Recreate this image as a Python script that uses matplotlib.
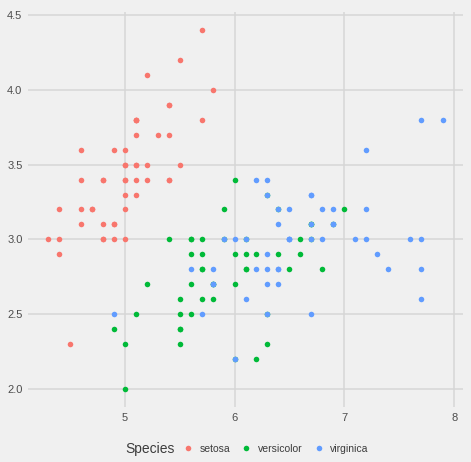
import numpy as np
import matplotlib
matplotlib.use("Agg")
import matplotlib.pyplot as plt
from matplotlib.lines import Line2D

# iris: sepal length / sepal width
setosa_x = [5.1, 4.9, 4.7, 4.6, 5.0, 5.4, 4.6, 5.0, 4.4, 4.9, 5.4, 4.8, 4.8, 4.3, 5.8, 5.7, 5.4,
            5.1, 5.7, 5.1, 5.4, 5.1, 4.6, 5.1, 4.8, 5.0, 5.0, 5.2, 5.2, 4.7, 4.8, 5.4, 5.2, 5.5,
            4.9, 5.0, 5.5, 4.9, 4.4, 5.1, 5.0, 4.5, 4.4, 5.0, 5.1, 4.8, 5.1, 4.6, 5.3, 5.0]
setosa_y = [3.5, 3.0, 3.2, 3.1, 3.6, 3.9, 3.4, 3.4, 2.9, 3.1, 3.7, 3.4, 3.0, 3.0, 4.0, 4.4, 3.9,
            3.5, 3.8, 3.8, 3.4, 3.7, 3.6, 3.3, 3.4, 3.0, 3.4, 3.5, 3.4, 3.2, 3.1, 3.4, 4.1, 4.2,
            3.1, 3.2, 3.5, 3.6, 3.0, 3.4, 3.5, 2.3, 3.2, 3.5, 3.8, 3.0, 3.8, 3.2, 3.7, 3.3]
versicolor_x = [7.0, 6.4, 6.9, 5.5, 6.5, 5.7, 6.3, 4.9, 6.6, 5.2, 5.0, 5.9, 6.0, 6.1, 5.6, 6.7,
                5.6, 5.8, 6.2, 5.6, 5.9, 6.1, 6.3, 6.1, 6.4, 6.6, 6.8, 6.7, 6.0, 5.7, 5.5, 5.5,
                5.8, 6.0, 5.4, 6.0, 6.7, 6.3, 5.6, 5.5, 5.5, 6.1, 5.8, 5.0, 5.6, 5.7, 5.7, 6.2,
                5.1, 5.7]
versicolor_y = [3.2, 3.2, 3.1, 2.3, 2.8, 2.8, 3.3, 2.4, 2.9, 2.7, 2.0, 3.0, 2.2, 2.9, 2.9, 3.1,
                3.0, 2.7, 2.2, 2.5, 3.2, 2.8, 2.5, 2.8, 2.9, 3.0, 2.8, 3.0, 2.9, 2.6, 2.4, 2.4,
                2.7, 2.7, 3.0, 3.4, 3.1, 2.3, 3.0, 2.5, 2.6, 3.0, 2.6, 2.3, 2.7, 3.0, 2.9, 2.9,
                2.5, 2.8]
virginica_x = [6.3, 5.8, 7.1, 6.3, 6.5, 7.6, 4.9, 7.3, 6.7, 7.2, 6.5, 6.4, 6.8, 5.7, 5.8, 6.4,
               6.5, 7.7, 7.7, 6.0, 6.9, 5.6, 7.7, 6.3, 6.7, 7.2, 6.2, 6.1, 6.4, 7.2, 7.4, 7.9,
               6.4, 6.3, 6.1, 7.7, 6.3, 6.4, 6.0, 6.9, 6.7, 6.9, 5.8, 6.8, 6.7, 6.7, 6.3, 6.5,
               6.2, 5.9]
virginica_y = [3.3, 2.7, 3.0, 2.9, 3.0, 3.0, 2.5, 2.9, 2.5, 3.6, 3.2, 2.7, 3.0, 2.5, 2.8, 3.2,
               3.0, 3.8, 2.6, 2.2, 3.2, 2.8, 2.8, 2.7, 3.3, 3.2, 2.8, 3.0, 2.8, 3.0, 2.8, 3.8,
               2.8, 2.8, 2.6, 3.0, 3.4, 3.1, 3.0, 3.1, 3.1, 3.1, 2.7, 3.2, 3.3, 3.0, 2.5, 3.0,
               3.4, 3.0]

species = ["setosa", "versicolor", "virginica"]
colors = ["#F8766D", "#00BA38", "#619CFF"]
xs = [setosa_x, versicolor_x, virginica_x]
ys = [setosa_y, versicolor_y, virginica_y]

x_ticks = [5, 6, 7, 8]
y_ticks = [2.0, 2.5, 3.0, 3.5, 4.0, 4.5]

plt.rcParams['font.family'] = ['Liberation Sans', 'DejaVu Sans']
bg = "#F0F0F0"

fig = plt.figure(figsize=(4.71, 4.62), dpi=100, facecolor=bg)
ax = fig.add_axes([28 / 471, 55 / 462, 435 / 471, 395 / 462], facecolor=bg)

for sx, sy, c in zip(xs, ys, colors):
    ax.scatter(sx, sy, s=16, color=c, linewidths=0, zorder=3)

ax.set_xlim(4.12, 8.08)
ax.set_ylim(1.88, 4.52)
ax.set_xticks(x_ticks)
ax.set_xticklabels([str(t) for t in x_ticks])
ax.set_yticks(y_ticks)
ax.set_yticklabels(["%.1f" % t for t in y_ticks])
ax.grid(True, color="#D6D6D6", linewidth=1.1, zorder=0)
for s in ax.spines.values():
    s.set_visible(False)
ax.tick_params(length=0, labelsize=8, labelcolor="#4D4D4D", pad=4)

fig.text(150 / 471, 1 - 449 / 462, "Species", fontsize=10, color="#3C3C3C",
         ha="center", va="center")
handles = [Line2D([], [], marker="o", linestyle="", markersize=4, markeredgewidth=0,
                  color=c, label=s) for s, c in zip(species, colors)]
leg = fig.legend(handles=handles, ncol=3, loc="center left",
                 bbox_to_anchor=(183 / 471, 1 - 449 / 462), frameon=False,
                 fontsize=7.5, handlelength=1.0, handletextpad=0.6, columnspacing=1.05,
                 borderpad=0, borderaxespad=0)
for t in leg.get_texts():
    t.set_color("#3C3C3C")

fig.savefig("out.png", dpi=100, facecolor=bg)
